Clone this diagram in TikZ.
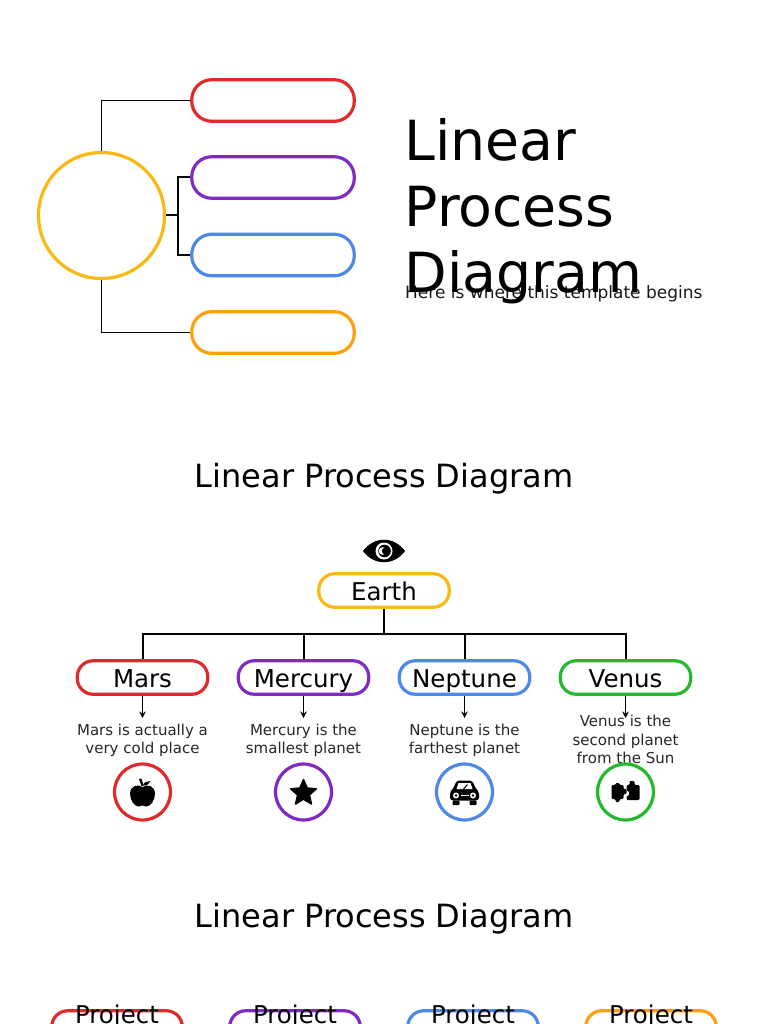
\documentclass[tikz,border=0pt]{standalone}
\usepackage{fontspec}
\setmainfont{DejaVu Sans}
\definecolor{cred}{HTML}{DF2A2D}
\definecolor{cpurple}{HTML}{7F2BC3}
\definecolor{cblue}{HTML}{4E88EA}
\definecolor{corange}{HTML}{FF9F0E}
\definecolor{cyellow}{HTML}{F9B915}
\definecolor{cgreen}{HTML}{25B72C}
\usetikzlibrary{arrows.meta}
\tikzset{
  bigpill/.style={draw=#1,line width=3.2pt,rectangle,rounded corners=20pt,minimum width=162.5pt,minimum height=41.5pt,inner sep=0pt},
  pill/.style={draw=#1,line width=3.2pt,rectangle,rounded corners=16pt,minimum width=130.5pt,minimum height=33.5pt,inner sep=0pt,font=\fontsize{24.5}{24.5}\selectfont,text height=24pt,text depth=4pt},
  ring/.style={draw=#1,line width=3.2pt,circle,minimum size=56pt,inner sep=0pt},
  conn/.style={draw=black,line width=2pt},
  vconn/.style={draw=black,line width=1.6pt},
  tiparrow/.style={draw=black,line width=1.8pt,-{Stealth[length=6.5pt,width=6.5pt]}},
  heading/.style={font=\fontsize{32}{38}\selectfont,inner sep=0pt,anchor=base},
  desc/.style={font=\fontsize{15}{18.4}\selectfont,inner sep=0pt,align=center,text=black!85},
  toptitle/.style={font=\fontsize{55.3}{66}\selectfont,inner sep=0pt,align=left,anchor=north west},
}
\begin{document}
\begin{tikzpicture}[x=1pt,y=-1pt]
\useasboundingbox (0,0) rectangle (768,1024);
% top block
\node[draw=cyellow,line width=3.2pt,circle,minimum size=126pt,inner sep=0pt] (sun) at (101.5,215.5) {};
\node[bigpill=cred] (p1) at (273,100.5) {};
\node[bigpill=cpurple] (p2) at (273,177.5) {};
\node[bigpill=cblue] (p3) at (273,255) {};
\node[bigpill=corange] (p4) at (273,332.5) {};
\coordinate (jn) at (178,215.5);
\draw[vconn] (sun.north) |- (p1.west);
\draw[vconn] (sun.south) |- (p4.west);
\draw[conn] (sun.east) -- (jn);
\draw[conn] (jn) |- (p2.west);
\draw[conn] (jn) |- (p3.west);
\node[font=\fontsize{17}{20}\selectfont,inner sep=0pt,anchor=base west,text=black!90] (sub) at (405,298) {Here is where this template begins};
\node[toptitle] (title) at (404.5,118) {Linear\\Process\\Diagram};
% middle block
\node[heading] (h1) at (384,487) {Linear Process Diagram};
\node[pill=cyellow] (earth) at (384,590.5) {Earth};
\node[pill=cred] (mars) at (142.5,677.5) {Mars};
\node[pill=cpurple] (merc) at (303.5,677.5) {Mercury};
\node[pill=cblue] (nept) at (464.5,677.5) {Neptune};
\node[pill=cgreen] (venus) at (625.5,677.5) {Venus};
\coordinate (bus) at (384,634);
\draw[conn] (earth.south) -- (bus);
\draw[conn] (mars.north) |- (bus);
\draw[conn] (venus.north) |- (bus);
\draw[conn] (merc.north) -- (merc.north |- bus);
\draw[conn] (nept.north) -- (nept.north |- bus);
\foreach \n/\c in {mars/142.5,merc/303.5,nept/464.5,venus/625.5}{
  \coordinate (\n end) at (\c,718);
  \draw[tiparrow] (\n.south) -- (\n end);
}
\node[desc] (d1) at (142.5,740.5) {Mars is actually a\\very cold place};
\node[desc] (d2) at (303.5,740.5) {Mercury is the\\smallest planet};
\node[desc] (d3) at (464.5,740.5) {Neptune is the\\farthest planet};
\node[desc] (d4) at (625.5,739.5) {Venus is the\\second planet\\from the Sun};
\node[ring=cred] (r1) at (142.5,792) {};
\node[ring=cpurple] (r2) at (303.5,792) {};
\node[ring=cblue] (r3) at (464.5,792) {};
\node[ring=cgreen] (r4) at (625.5,792) {};
% eye
\begin{scope}[shift={(384,551)}]
\fill (-21,0) .. controls (-10,-15) and (10,-15) .. (21,0) .. controls (10,15) and (-10,15) .. (-21,0) -- cycle;
\fill[white] (0,0) circle (8.5);
\fill (0.5,0) circle (6.3);
\fill[white] (-1.5,0) circle (3.8);
\fill (1,0) circle (3.2);
\end{scope}
% apple
\begin{scope}[shift={(142.5,792)}]
\fill (0,-5) .. controls (-4,-8) and (-12.5,-7) .. (-12.5,2) .. controls (-12.5,8) and (-8,14.5) .. (-4,14.5) .. controls (-2,14.5) and (-1,13.5) .. (0,13.5) .. controls (1,13.5) and (2,14.5) .. (4,14.5) .. controls (8,14.5) and (12.5,8) .. (12.5,2) .. controls (12.5,-7) and (4,-8) .. (0,-5) -- cycle;
\fill (-3.5,-13) -- (-1,-13.5) -- (1,-6.5) -- (-1,-6) -- cycle;
\fill (0.5,-6.5) .. controls (1,-10) and (5,-11) .. (8,-11) .. controls (7,-8) and (4,-6) .. (0.5,-6.5) -- cycle;
\end{scope}
% star
\begin{scope}[shift={(303.5,793)},yscale=-1]
\filldraw[line width=1.5pt,line join=round] (90:13.5)--(126:6.2)--(162:13.5)--(198:6.2)--(234:13.5)--(270:6.2)--(306:13.5)--(342:6.2)--(18:13.5)--(54:6.2)--cycle;
\end{scope}
% car
\begin{scope}[shift={(464.5,792.5)}]
\fill[rounded corners=3pt] (-14.5,8) -- (-14.5,-1) -- (-11,-4) -- (-8,-12) -- (8,-12) -- (11,-4) -- (14.5,-1) -- (14.5,8) -- cycle;
\fill[rounded corners=1pt] (-12,8) rectangle (-5,12.5);
\fill[rounded corners=1pt] (5,8) rectangle (12,12.5);
\fill[white] (-8,-3.5) -- (-6,-9.5) -- (6,-9.5) -- (8,-3.5) -- cycle;
\draw[line width=1pt] (-1,-3.5) -- (3,-8);
\fill[white] (-8.5,3) circle (3);
\fill[white] (8.5,3) circle (3);
\fill (-8.5,3) circle (1.4);
\fill (8.5,3) circle (1.4);
\draw[white,line width=1.3pt] (-4,3) -- (4,3);
\end{scope}
% puzzle
\begin{scope}[shift={(625.5,792)}]
\fill[rounded corners=1.2pt] (-14,-7) -- (-10,-7) -- (-10,-9) -- (-6,-9) -- (-6,-7) -- (-2,-7) -- (-2,-3) -- (1,-3) -- (1,2) -- (-2,2) -- (-2,7) -- (-6,7) -- (-6,10) -- (-10,10) -- (-10,7) -- (-14,7) -- cycle;
\fill[rounded corners=1.2pt] (1,-7) -- (4,-7) -- (4,-11) -- (9,-11) -- (9,-7) -- (14,-7) -- (14,8) -- (1,8) -- (1,4) -- (3.5,4) -- (3.5,-1) -- (1,-1) -- cycle;
\end{scope}
% bottom block
\node[heading] (h2) at (384,927) {Linear Process Diagram};
\node[pill=cred] (q1) at (117,1027.5) {};
\node[pill=cpurple] (q2) at (295,1027.5) {};
\node[pill=cblue] (q3) at (473,1027.5) {};
\node[pill=corange] (q4) at (651,1027.5) {};
\foreach \c/\n in {117/t1,295/t2,473/t3,651/t4}{
  \node[font=\fontsize{24.5}{24.5}\selectfont,inner sep=0pt,anchor=base] (\n) at (\c,1023) {Project};
}
\end{tikzpicture}
\end{document}
